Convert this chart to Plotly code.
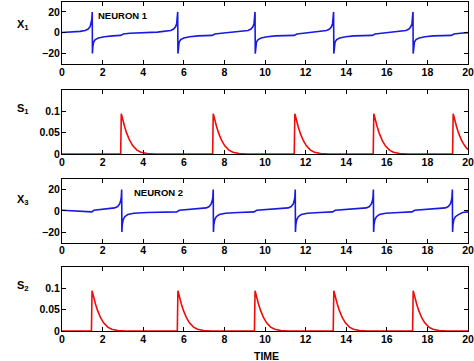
import plotly.graph_objects as go

# ---- data ----
time_x1 = [0, 0.5, 0.89, 1.14, 1.29, 1.39, 1.44, 1.47, 1.49,
           1.50, 1.52, 1.56, 1.64, 1.79, 2.09, 2.49, 2.89, 3.02, 3.34, 4.70, 5.10, 5.35, 5.50, 5.60, 5.65, 5.68, 5.70,
           5.71, 5.73, 5.77, 5.85, 6.00, 6.30, 6.70, 7.40, 7.53, 7.85, 8.51, 8.91, 9.16, 9.31, 9.41, 9.46, 9.49, 9.51,
           9.52, 9.54, 9.58, 9.66, 9.81, 10.11, 10.51, 11.44, 11.57, 11.89, 12.38, 12.78, 13.03, 13.18, 13.28, 13.33, 13.36, 13.38,
           13.39, 13.41, 13.45, 13.53, 13.68, 13.98, 14.38, 15.29, 15.42, 15.74, 16.29, 16.69, 16.94, 17.09, 17.19, 17.24, 17.27, 17.29,
           17.30, 17.32, 17.36, 17.44, 17.59, 17.89, 18.29, 19.18, 19.31, 19.63, 20.0]
x1 = [0.3, 0.6, 1.3, 2.2, 3.5, 6, 9, 13, 20,
      -20, -13, -9, -6.5, -5, -3.8, -3, -2.5, -1.2, -0.5, 0.6, 1.3, 2.2, 3.5, 6, 9, 13, 20,
      -20, -13, -9, -6.5, -5, -3.8, -3, -2.5, -1.2, -0.5, 0.6, 1.3, 2.2, 3.5, 6, 9, 13, 20,
      -20, -13, -9, -6.5, -5, -3.8, -3, -2.5, -1.2, -0.5, 0.6, 1.3, 2.2, 3.5, 6, 9, 13, 20,
      -20, -13, -9, -6.5, -5, -3.8, -3, -2.5, -1.2, -0.5, 0.6, 1.3, 2.2, 3.5, 6, 9, 13, 20,
      -20, -13, -9, -6.5, -5, -3.8, -3, -2.5, -1.2, -0.5, 0.1]

time_x3 = [0, 0.7, 1.3, 1.47, 1.57, 1.89, 2.34, 2.59, 2.74, 2.84, 2.89, 2.92, 2.94,
           2.95, 2.97, 3.01, 3.09, 3.24, 3.54, 4.2, 5.65, 5.78, 6.10, 6.85, 7.10, 7.25, 7.35, 7.40, 7.43, 7.45,
           7.46, 7.48, 7.52, 7.60, 7.75, 8.05, 8.7, 9.46, 9.59, 9.91, 10.89, 11.14, 11.29, 11.39, 11.44, 11.47, 11.49,
           11.50, 11.52, 11.56, 11.64, 11.79, 12.09, 12.7, 13.33, 13.46, 13.78, 14.74, 14.99, 15.14, 15.24, 15.29, 15.32, 15.34,
           15.35, 15.37, 15.41, 15.49, 15.64, 15.94, 16.6, 17.24, 17.37, 17.69, 18.63, 18.88, 19.03, 19.13, 19.18, 19.21, 19.23,
           19.24, 19.26, 19.30, 19.38, 19.53, 19.73, 20.0]
x3 = [0.6, 0, -0.8, -1.0, 0.5, 1.0, 2.0, 2.8, 4, 6.5, 9.5, 13, 20,
      -20, -13, -8.5, -5.5, -3.5, -2.2, -1.5, -1.0, 0.5, 1.0, 2.0, 2.8, 4, 6.5, 9.5, 13, 20,
      -20, -13, -8.5, -5.5, -3.5, -2.2, -1.5, -1.0, 0.5, 1.0, 2.0, 2.8, 4, 6.5, 9.5, 13, 20,
      -20, -13, -8.5, -5.5, -3.5, -2.2, -1.5, -1.0, 0.5, 1.0, 2.0, 2.8, 4, 6.5, 9.5, 13, 20,
      -20, -13, -8.5, -5.5, -3.5, -2.2, -1.5, -1.0, 0.5, 1.0, 2.0, 2.8, 4, 6.5, 9.5, 13, 20,
      -20, -13, -8.5, -5.5, -3.5, -1.5, -1.0]

time_s1 = [0, 2.89, 2.92, 2.99, 3.09, 3.19, 3.34, 3.49, 3.69, 3.89, 4.19, 4.59,
           7.42, 7.45, 7.52, 7.62, 7.72, 7.87, 8.02, 8.22, 8.42, 8.72, 9.12,
           11.44, 11.47, 11.54, 11.64, 11.74, 11.89, 12.04, 12.24, 12.44, 12.74, 13.14,
           15.33, 15.36, 15.43, 15.53, 15.63, 15.78, 15.93, 16.13, 16.33, 16.63, 17.03,
           19.24, 19.27, 19.34, 19.44, 19.54, 19.69, 19.84, 20.0]
s1 = [0, 0, 0.094, 0.08, 0.063, 0.048, 0.031, 0.019, 0.009, 0.004, 0.001, 0,
      0, 0.094, 0.08, 0.063, 0.048, 0.031, 0.019, 0.009, 0.004, 0.001, 0,
      0, 0.094, 0.08, 0.063, 0.048, 0.031, 0.019, 0.009, 0.004, 0.001, 0,
      0, 0.094, 0.08, 0.063, 0.048, 0.031, 0.019, 0.009, 0.004, 0.001, 0,
      0, 0.094, 0.08, 0.063, 0.048, 0.031, 0.019, 0.010]

time_s2 = [0, 1.45, 1.48, 1.55, 1.65, 1.75, 1.90, 2.05, 2.25, 2.45, 2.75, 3.15,
           5.68, 5.71, 5.78, 5.88, 5.98, 6.13, 6.28, 6.48, 6.68, 6.98, 7.38,
           9.48, 9.51, 9.58, 9.68, 9.78, 9.93, 10.08, 10.28, 10.48, 10.78, 11.18,
           13.36, 13.39, 13.46, 13.56, 13.66, 13.81, 13.96, 14.16, 14.36, 14.66, 15.06,
           17.27, 17.30, 17.37, 17.47, 17.57, 17.72, 17.87, 18.07, 18.27, 18.57, 18.97, 20.0]
s2 = [0, 0, 0.094, 0.08, 0.063, 0.048, 0.031, 0.019, 0.009, 0.004, 0.001, 0,
      0, 0.094, 0.08, 0.063, 0.048, 0.031, 0.019, 0.009, 0.004, 0.001, 0,
      0, 0.094, 0.08, 0.063, 0.048, 0.031, 0.019, 0.009, 0.004, 0.001, 0,
      0, 0.094, 0.08, 0.063, 0.048, 0.031, 0.019, 0.009, 0.004, 0.001, 0,
      0, 0.094, 0.08, 0.063, 0.048, 0.031, 0.019, 0.009, 0.004, 0.001, 0, 0]

x_ticks = [0, 2, 4, 6, 8, 10, 12, 14, 16, 18, 20]
x_tick_labels = ["0", "2", "4", "6", "8", "10", "12", "14", "16", "18", "20"]
v_ticks = [-20, 0, 20]
v_tick_labels = ["\u221220", "0", "20"]
s_ticks = [0, 0.05, 0.1]
s_tick_labels = ["0", "0.05", "0.1"]
panel_labels = ["X<sub>1</sub>", "S<sub>1</sub>", "X<sub>3</sub>", "S<sub>2</sub>"]
neuron_labels = ["NEURON 1", "NEURON 2"]
x_label = "TIME"

W, H = 474, 361
BLUE = "rgb(25,25,225)"
RED = "rgb(240,10,10)"
FONT = "Arial, Liberation Sans, Helvetica, sans-serif"

fig = go.Figure()
series = [(time_x1, x1, BLUE), (time_s1, s1, RED), (time_x3, x3, BLUE), (time_s2, s2, RED)]
for i, (t, v, c) in enumerate(series):
    fig.add_trace(go.Scatter(x=t, y=v, mode="lines", line=dict(color=c, width=1.6),
                             xaxis="x" if i == 0 else f"x{i+1}",
                             yaxis="y" if i == 0 else f"y{i+1}",
                             showlegend=False, hoverinfo="skip"))

xl, xr = 62 / W, 468 / W
panels_px = [(1.5, 64), (89.7, 154), (179, 242.7), (266.7, 331)]
label_y_px = [25, 109, 200, 286]

common = dict(showline=True, linecolor="black", linewidth=1, mirror="ticks",
              ticks="inside", ticklen=4, tickwidth=1, tickcolor="black",
              showgrid=False, zeroline=False, automargin=False,
              ticklabeloverflow="allow",
              tickfont=dict(family=FONT, size=10.5, color="black", weight="bold"))

layout = dict(width=W, height=H, margin=dict(l=0, r=0, t=0, b=0),
              paper_bgcolor="white", plot_bgcolor="white", annotations=[])

for i, (top, bot) in enumerate(panels_px):
    sx = "xaxis" if i == 0 else f"xaxis{i+1}"
    sy = "yaxis" if i == 0 else f"yaxis{i+1}"
    yr = [-30, 30] if i % 2 == 0 else [0, 0.15]
    layout[sx] = dict(domain=[xl, xr], range=[0, 20], tickvals=x_ticks, ticktext=x_tick_labels,
                      anchor="y" if i == 0 else f"y{i+1}", ticklabelstandoff=-2, **common)
    if i % 2 == 0:
        yt, ytl = v_ticks, v_tick_labels
    else:
        yt, ytl = s_ticks, s_tick_labels
    layout[sy] = dict(domain=[1 - bot / H, 1 - top / H], range=yr, tickvals=yt, ticktext=ytl,
                      anchor="x" if i == 0 else f"x{i+1}", ticklabelstandoff=-1, **common)
    layout["annotations"].append(dict(text="<b>" + panel_labels[i] + "</b>", xref="paper", yref="paper",
                                      x=23 / W, y=1 - label_y_px[i] / H, showarrow=False,
                                      xanchor="center", yanchor="middle",
                                      font=dict(family=FONT, size=11, color="black")))

layout["annotations"].append(dict(text="<b>" + neuron_labels[0] + "</b>", xref="x", yref="y",
                                  x=3.0, y=17, showarrow=False, xanchor="center", yanchor="middle",
                                  font=dict(family=FONT, size=9.5, color="black")))
layout["annotations"].append(dict(text="<b>" + neuron_labels[1] + "</b>", xref="x3", yref="y3",
                                  x=4.75, y=17.5, showarrow=False, xanchor="center", yanchor="middle",
                                  font=dict(family=FONT, size=9.5, color="black")))
layout["annotations"].append(dict(text="<b>" + x_label + "</b>", xref="paper", yref="paper",
                                  x=266 / W, y=1 - 355.5 / H, showarrow=False,
                                  xanchor="center", yanchor="middle",
                                  font=dict(family=FONT, size=10.5, color="black")))

fig.update_layout(**layout)
fig.write_html("out.html", config={"displayModeBar": False},
               post_script="document.body.style.margin='0';")
